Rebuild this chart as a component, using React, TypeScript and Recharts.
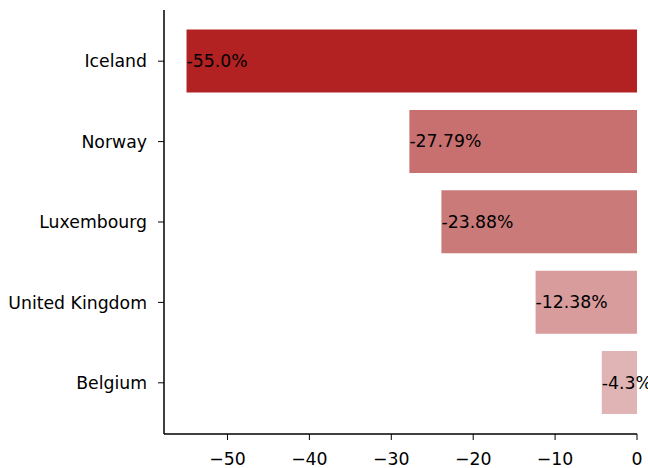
import { Bar, BarChart, Cell, LabelList, XAxis, YAxis } from "recharts";

const countries = ["Iceland", "Norway", "Luxembourg", "United Kingdom", "Belgium"];
const changes = [-55.0, -27.79, -23.88, -12.38, -4.3];
const changeLabels = ["-55.0%", "-27.79%", "-23.88%", "-12.38%", "-4.3%"];
const barColors = ["#b22222", "#c87070", "#cb7a7a", "#d89c9c", "#e0b4b4"];
const xTicks = [-50, -40, -30, -20, -10, 0];

const data = countries.map((name, i) => ({
  name,
  value: changes[i],
  label: changeLabels[i],
}));

const font = "'DejaVu Sans', sans-serif";
const fontSize = 17.3;

function BarLabel(props: any) {
  const { x, y, width, height, index } = props;
  const left = Math.min(x, x + width);
  return (
    <text
      x={left}
      y={y + height / 2}
      dy="0.35em"
      fontSize={fontSize}
      fontFamily={font}
      fill="#000"
    >
      {data[index].label}
    </text>
  );
}

export default function App() {
  return (
    <div style={{ position: "absolute", left: 0, top: 0, background: "#fff" }}>
      <BarChart
        width={648}
        height={468}
        data={data}
        layout="vertical"
        margin={{ top: 10, right: 11, bottom: 0, left: 0 }}
        barCategoryGap={8.5}
      >
        <XAxis
          type="number"
          domain={[-57.75, 0]}
          ticks={xTicks}
          allowDataOverflow
          tickFormatter={(v: number) => String(v).replace("-", "\u2212")}
          stroke="#000"
          tick={{ fill: "#000", fontSize, fontFamily: font }}
          tickSize={6}
          tickMargin={13}
          height={34}
          axisLine={{ strokeWidth: 1.5 }}
        />
        <YAxis
          type="category"
          dataKey="name"
          width={164}
          stroke="#000"
          tick={{ fill: "#000", fontSize, fontFamily: font }}
          tickSize={6}
          tickMargin={11}
          padding={{ top: 11, bottom: 11 }}
          axisLine={{ strokeWidth: 1.5 }}
        />
        <Bar dataKey="value" isAnimationActive={false}>
          {data.map((d, i) => (
            <Cell key={d.name} fill={barColors[i]} />
          ))}
          <LabelList dataKey="label" content={BarLabel} />
        </Bar>
      </BarChart>
    </div>
  );
}
